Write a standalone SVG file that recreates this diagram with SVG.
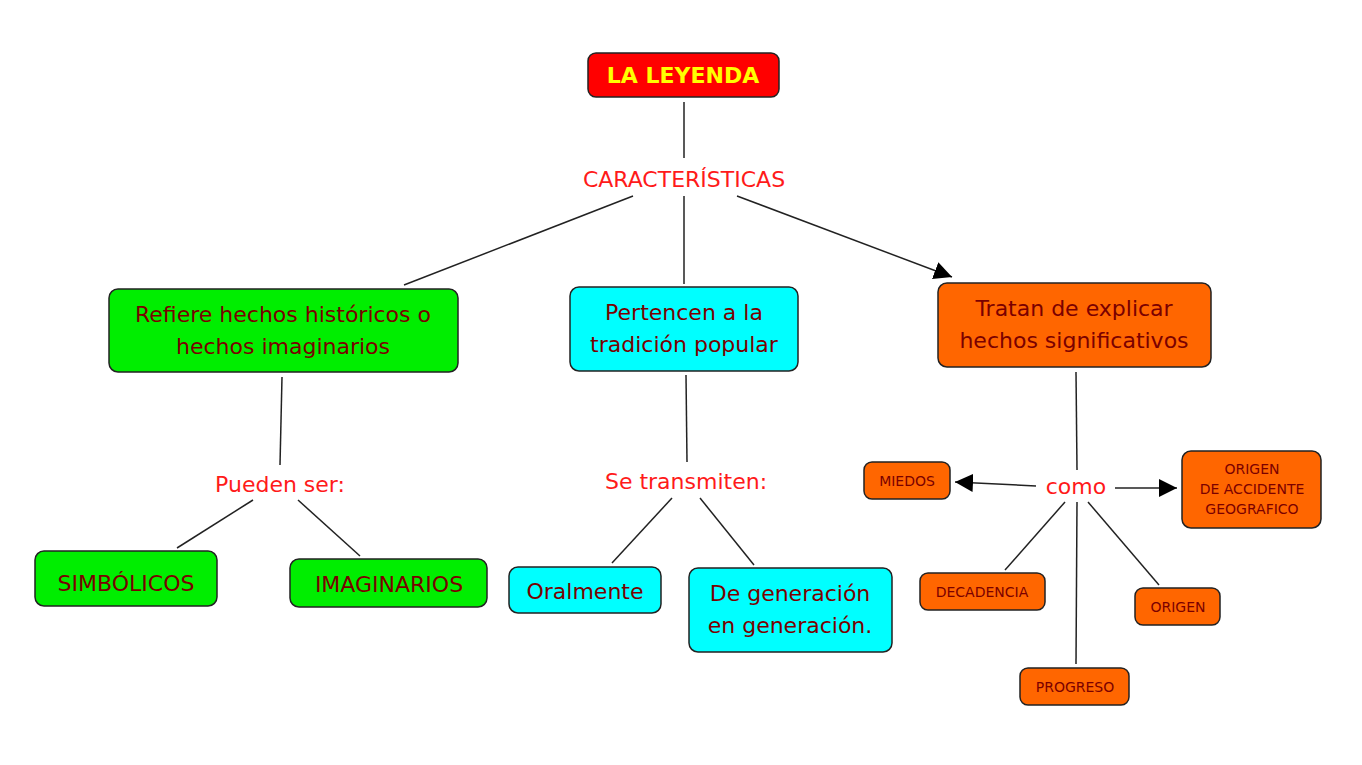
<svg xmlns="http://www.w3.org/2000/svg" width="1362" height="765" viewBox="0 0 1362 765">
<defs>
<style>
.n{stroke:#222;stroke-width:1.5}
.t{font-family:"DejaVu Sans",Verdana,sans-serif;fill:#7a0000;text-anchor:middle}
.l{font-family:"DejaVu Sans",Verdana,sans-serif;fill:#ff1a1a;text-anchor:middle;font-size:22px}
.c{stroke:#222;stroke-width:1.5;fill:none}
.g{fill:#00ee00}.b{fill:#00ffff}.o{fill:#ff6600}
</style>
<marker id="a" viewBox="0 0 10 10" refX="10" refY="5" markerWidth="18" markerHeight="18" markerUnits="userSpaceOnUse" orient="auto"><path d="M0,0L10,5L0,10z" fill="#000"/></marker>
</defs>
<rect width="1362" height="765" fill="#fff"/>
<g id="connectors">
<line class="c" x1="684" y1="102" x2="684" y2="158"/>
<line class="c" x1="633" y1="196" x2="404" y2="285"/>
<line class="c" x1="684" y1="196" x2="684" y2="284"/>
<line class="c" x1="737" y1="196" x2="952" y2="277" marker-end="url(#a)"/>
<line class="c" x1="282" y1="377" x2="280" y2="465"/>
<line class="c" x1="253" y1="500" x2="177" y2="548"/>
<line class="c" x1="298" y1="500" x2="360" y2="556"/>
<line class="c" x1="686" y1="375" x2="687" y2="462"/>
<line class="c" x1="672" y1="498" x2="612" y2="563"/>
<line class="c" x1="700" y1="498" x2="754" y2="565"/>
<line class="c" x1="1076" y1="372" x2="1077" y2="470"/>
<line class="c" x1="1036" y1="486" x2="955" y2="482" marker-end="url(#a)"/>
<line class="c" x1="1115" y1="488" x2="1177" y2="488" marker-end="url(#a)"/>
<line class="c" x1="1065" y1="502" x2="1005" y2="570"/>
<line class="c" x1="1077" y1="502" x2="1076" y2="664"/>
<line class="c" x1="1088" y1="502" x2="1159" y2="585"/>
</g>
<g id="la-leyenda"><rect class="n" x="588" y="53" width="191" height="44" rx="8" fill="#ff0000"/><text x="683" y="83" font-family="DejaVu Sans,Verdana,sans-serif" font-weight="bold" font-size="22" fill="#ffff00" text-anchor="middle">LA LEYENDA</text></g>
<g id="caracteristicas"><text class="l" x="684" y="187">CARACTERÍSTICAS</text></g>
<g id="refiere"><rect class="n g" x="109" y="289" width="349" height="83" rx="9"/><text class="t" font-size="22" x="283" y="322">Refiere hechos históricos o</text><text class="t" font-size="22" x="283" y="354">hechos imaginarios</text></g>
<g id="pertencen"><rect class="n b" x="570" y="287" width="228" height="84" rx="9"/><text class="t" font-size="22" x="684" y="320">Pertencen a la</text><text class="t" font-size="22" x="684" y="352">tradición popular</text></g>
<g id="tratan"><rect class="n o" x="938" y="283" width="273" height="84" rx="9"/><text class="t" font-size="22" x="1074" y="316">Tratan de explicar</text><text class="t" font-size="22" x="1074" y="348">hechos significativos</text></g>
<g id="pueden"><text class="l" x="280" y="492">Pueden ser:</text></g>
<g id="transmiten"><text class="l" x="686" y="489">Se transmiten:</text></g>
<g id="como"><text class="l" x="1076" y="494">como</text></g>
<g id="simbolicos"><rect class="n g" x="35" y="551" width="182" height="55" rx="9"/><text class="t" font-size="22" x="126" y="591">SIMBÓLICOS</text></g>
<g id="imaginarios"><rect class="n g" x="290" y="559" width="197" height="48" rx="9"/><text class="t" font-size="22" x="389" y="592">IMAGINARIOS</text></g>
<g id="oralmente"><rect class="n b" x="509" y="567" width="152" height="46" rx="9"/><text class="t" font-size="22" x="585" y="599">Oralmente</text></g>
<g id="generacion"><rect class="n b" x="689" y="568" width="203" height="84" rx="9"/><text class="t" font-size="22" x="790" y="601">De generación</text><text class="t" font-size="22" x="790" y="633">en generación.</text></g>
<g id="miedos"><rect class="n o" x="864" y="462" width="86" height="37" rx="8"/><text class="t" font-size="14" x="907" y="486">MIEDOS</text></g>
<g id="origen-accidente"><rect class="n o" x="1182" y="451" width="139" height="77" rx="9"/><text class="t" font-size="14" x="1252" y="474">ORIGEN</text><text class="t" font-size="14" x="1252" y="494">DE ACCIDENTE</text><text class="t" font-size="14" x="1252" y="514">GEOGRAFICO</text></g>
<g id="decadencia"><rect class="n o" x="920" y="573" width="125" height="37" rx="8"/><text class="t" font-size="14" x="982" y="597">DECADENCIA</text></g>
<g id="origen"><rect class="n o" x="1135" y="588" width="85" height="37" rx="8"/><text class="t" font-size="14" x="1178" y="612">ORIGEN</text></g>
<g id="progreso"><rect class="n o" x="1020" y="668" width="109" height="37" rx="8"/><text class="t" font-size="14" x="1075" y="692">PROGRESO</text></g>
</svg>
